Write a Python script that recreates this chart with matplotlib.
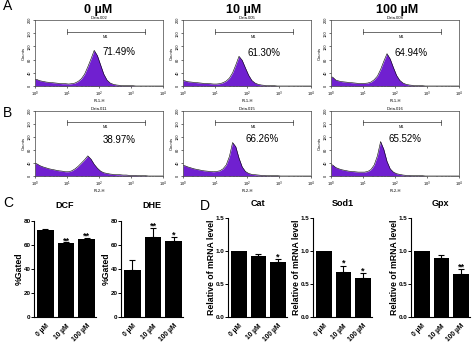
import numpy as np
import matplotlib
matplotlib.use("Agg")
import matplotlib.pyplot as plt

plt.rcParams['font.family'] = ['Liberation Sans', 'DejaVu Sans']
plt.rcParams['mathtext.fontset'] = 'dejavusans'

# -----------------------------
# Data
# -----------------------------
doses = ["0 µM", "10 µM", "100 µM"]

# flow cytometry histograms, counts per 0.1-decade bin from 10^0 to 10^4
hist_a1 = [20, 16, 14, 12, 11, 10, 9, 8, 7, 7, 6, 7, 9, 14, 22, 36, 58, 82, 108, 92,
           64, 36, 18, 9, 5, 3, 2, 1, 1, 1, 1, 0, 0, 0, 0, 0, 0, 0, 0, 0]
hist_a2 = [16, 13, 12, 11, 10, 9, 8, 8, 7, 6, 6, 7, 10, 15, 24, 40, 64, 90, 78, 55,
           33, 17, 9, 5, 3, 2, 1, 1, 1, 0, 0, 0, 0, 0, 0, 0, 0, 0, 0, 0]
hist_a3 = [27, 18, 15, 13, 12, 11, 10, 9, 8, 8, 8, 9, 12, 19, 30, 50, 75, 98, 82, 56,
           32, 17, 9, 5, 3, 2, 1, 1, 1, 0, 0, 0, 0, 0, 0, 0, 0, 0, 0, 0]
hist_b1 = [38, 32, 28, 25, 22, 20, 18, 16, 15, 13, 13, 16, 22, 30, 40, 50, 62, 52, 36, 24,
           15, 10, 8, 6, 5, 4, 4, 3, 3, 2, 2, 2, 1, 1, 1, 0, 0, 0, 0, 0]
hist_b2 = [32, 28, 25, 22, 20, 18, 16, 15, 14, 13, 14, 16, 22, 34, 60, 103, 90, 55, 28, 14,
           8, 5, 4, 3, 2, 2, 1, 1, 1, 1, 0, 0, 0, 0, 0, 0, 0, 0, 0, 0]
hist_b3 = [34, 26, 22, 19, 17, 15, 14, 13, 12, 12, 12, 14, 20, 34, 62, 106, 82, 45, 22, 12,
           7, 5, 3, 2, 2, 1, 1, 1, 1, 0, 0, 0, 0, 0, 0, 0, 0, 0, 0, 0]

hist_names = ["Data.002", "Data.005", "Data.008", "Data.011", "Data.015", "Data.016"]
gated_pct = ["71.49%", "61.30%", "64.94%", "38.97%", "66.26%", "65.52%"]
pct_pos = [(2.1, 103), (2.0, 100), (1.98, 100), (2.1, 111), (1.95, 115), (1.8, 115)]

# C: % gated
dcf_mean = [72.5, 61.5, 65.0]
dcf_err = [0.8, 0.6, 0.6]
dcf_sig = ["", "**", "**"]
dhe_mean = [39.0, 66.5, 63.5]
dhe_err = [8.5, 8.0, 3.5]
dhe_sig = ["", "**", "*"]

# D: relative mRNA level
cat_mean = [1.0, 0.92, 0.83]
cat_err = [0.0, 0.04, 0.045]
cat_sig = ["", "", "*"]
sod1_mean = [1.0, 0.68, 0.59]
sod1_err = [0.0, 0.10, 0.07]
sod1_sig = ["", "*", "*"]
gpx_mean = [1.0, 0.89, 0.65]
gpx_err = [0.0, 0.05, 0.07]
gpx_sig = ["", "", "**"]

W, H = 474, 344
fig = plt.figure(figsize=(W / 100, H / 100), dpi=100)


def px_axes(x0, y0, x1, y1):
    return fig.add_axes([x0 / W, 1 - y1 / H, (x1 - x0) / W, (y1 - y0) / H])


# -----------------------------
# Histograms (A, B)
# -----------------------------
def draw_hist(ax, counts, name, pct, pos, channel):
    edges = np.arange(len(counts) + 1) * 0.1
    centers = 10 ** ((edges[:-1] + edges[1:]) / 2)
    x = np.concatenate([[1.0], centers, [1e4]])
    y = np.concatenate([[counts[0]], counts, [0]])
    ax.fill_between(x, 0, y, color="#7020d0", lw=0)
    ax.plot(x, y, color="black", lw=0.4)
    ax.set_xscale("log")
    ax.set_xlim(1, 1e4)
    ax.set_ylim(0, 200)
    ax.set_yticks([0, 40, 80, 120, 160, 200])
    ax.set_xticks([1, 10, 100, 1000, 10000])
    ax.set_xticklabels(["10$^0$", "10$^1$", "10$^2$", "10$^3$", "10$^4$"])
    ax.tick_params(labelsize=2.8, length=1.5, width=0.4, pad=1)
    ax.tick_params(axis="x", which="minor", length=0.8, width=0.3)
    for lbl in ax.get_yticklabels():
        lbl.set_rotation(90)
        lbl.set_va("center")
    for s in ax.spines.values():
        s.set_linewidth(0.5)
        s.set_color("#444444")
    ax.set_title(name, fontsize=3, pad=1)
    ax.set_ylabel("Counts", fontsize=3, labelpad=1)
    ax.set_xlabel(channel, fontsize=3, labelpad=0.5)
    # marker M1
    ax.plot([10, 10 ** 3.45], [165, 165], color="#333333", lw=0.5)
    ax.plot([10, 10], [158, 172], color="#333333", lw=0.5)
    ax.plot([10 ** 3.45, 10 ** 3.45], [158, 172], color="#333333", lw=0.5)
    ax.text(10 ** 2.2, 150, "M1", fontsize=2.8, ha="center", va="center")
    ax.text(10 ** pos[0], pos[1], pct, fontsize=7, ha="left", va="center")


hists = [hist_a1, hist_a2, hist_a3, hist_b1, hist_b2, hist_b3]
cols = [(35, 163), (183, 311), (331, 459)]
rows = [(20, 86), (111, 176)]
for i, counts in enumerate(hists):
    r, c = divmod(i, 3)
    ax = px_axes(cols[c][0], rows[r][0], cols[c][1], rows[r][1])
    draw_hist(ax, counts, hist_names[i], gated_pct[i], pct_pos[i],
              "FL1-H" if r == 0 else "FL2-H")

for c, txt in zip([98, 244, 397], doses):
    fig.text(c / W, 1 - 10 / H, txt, fontsize=9, fontweight="bold",
             ha="center", va="center")


# -----------------------------
# Bar charts (C, D)
# -----------------------------
def draw_bars(ax, means, errs, sig, title, ylabel, ymax, yticks, ticklabels, star_off):
    xs = np.arange(len(means))
    ax.bar(xs, means, width=0.8, color="black")
    for x, m, e in zip(xs, means, errs):
        if e > 0:
            ax.errorbar(x, m, yerr=[[0], [e]], color="black", lw=0.8,
                        capsize=2.5, capthick=0.8)
    for x, m, e, s in zip(xs, means, errs, sig):
        if s:
            ax.text(x, m + e + star_off, s, fontsize=6.5, fontweight="bold",
                    ha="center", va="center")
    ax.set_xlim(-0.55, 2.45)
    ax.set_ylim(0, ymax)
    ax.set_yticks(yticks)
    ax.set_yticklabels(ticklabels)
    ax.set_xticks(xs)
    ax.set_xticklabels(doses, rotation=45, ha="right", rotation_mode="anchor",
                       fontweight="bold")
    ax.tick_params(axis="y", labelsize=4.5, length=2, width=0.7, pad=0.5)
    ax.tick_params(axis="x", labelsize=4.8, length=0, pad=4)
    for lbl in ax.get_yticklabels():
        lbl.set_fontweight("bold")
    ax.spines["top"].set_visible(False)
    ax.spines["right"].set_visible(False)
    ax.spines["left"].set_linewidth(0.8)
    ax.spines["bottom"].set_linewidth(0.8)
    ax.set_title(title, fontsize=6.5, fontweight="bold", pad=9)
    ax.set_ylabel(ylabel, fontsize=6.3, fontweight="bold", labelpad=0)


gated_ticks = [0, 20, 40, 60, 80]
ax = px_axes(34, 221, 96, 317)
draw_bars(ax, dcf_mean, dcf_err, dcf_sig, "DCF", "%Gated", 80,
          gated_ticks, [str(t) for t in gated_ticks], 1.5)
ax = px_axes(121, 221, 183, 317)
draw_bars(ax, dhe_mean, dhe_err, dhe_sig, "DHE", "%Gated", 80,
          gated_ticks, [str(t) for t in gated_ticks], 1.5)

mrna_ticks = [0, 0.5, 1.0, 1.5]
mrna_labels = ["0.0", "0.5", "1.0", "1.5"]
for x0, means, errs, sig, name in [(228, cat_mean, cat_err, cat_sig, "Cat"),
                                   (313, sod1_mean, sod1_err, sod1_sig, "Sod1"),
                                   (411, gpx_mean, gpx_err, gpx_sig, "Gpx")]:
    ax = px_axes(x0, 218, x0 + 59, 317)
    draw_bars(ax, means, errs, sig, name, "Relative of mRNA level", 1.5,
              mrna_ticks, mrna_labels, 0.03)

# panel letters
for x, y, letter in [(3, 6, "A"), (3, 113, "B"), (3, 203, "C"), (200, 206, "D")]:
    fig.text(x / W, 1 - y / H, letter, fontsize=10, ha="left", va="center")

fig.savefig("out.png", dpi=100)
